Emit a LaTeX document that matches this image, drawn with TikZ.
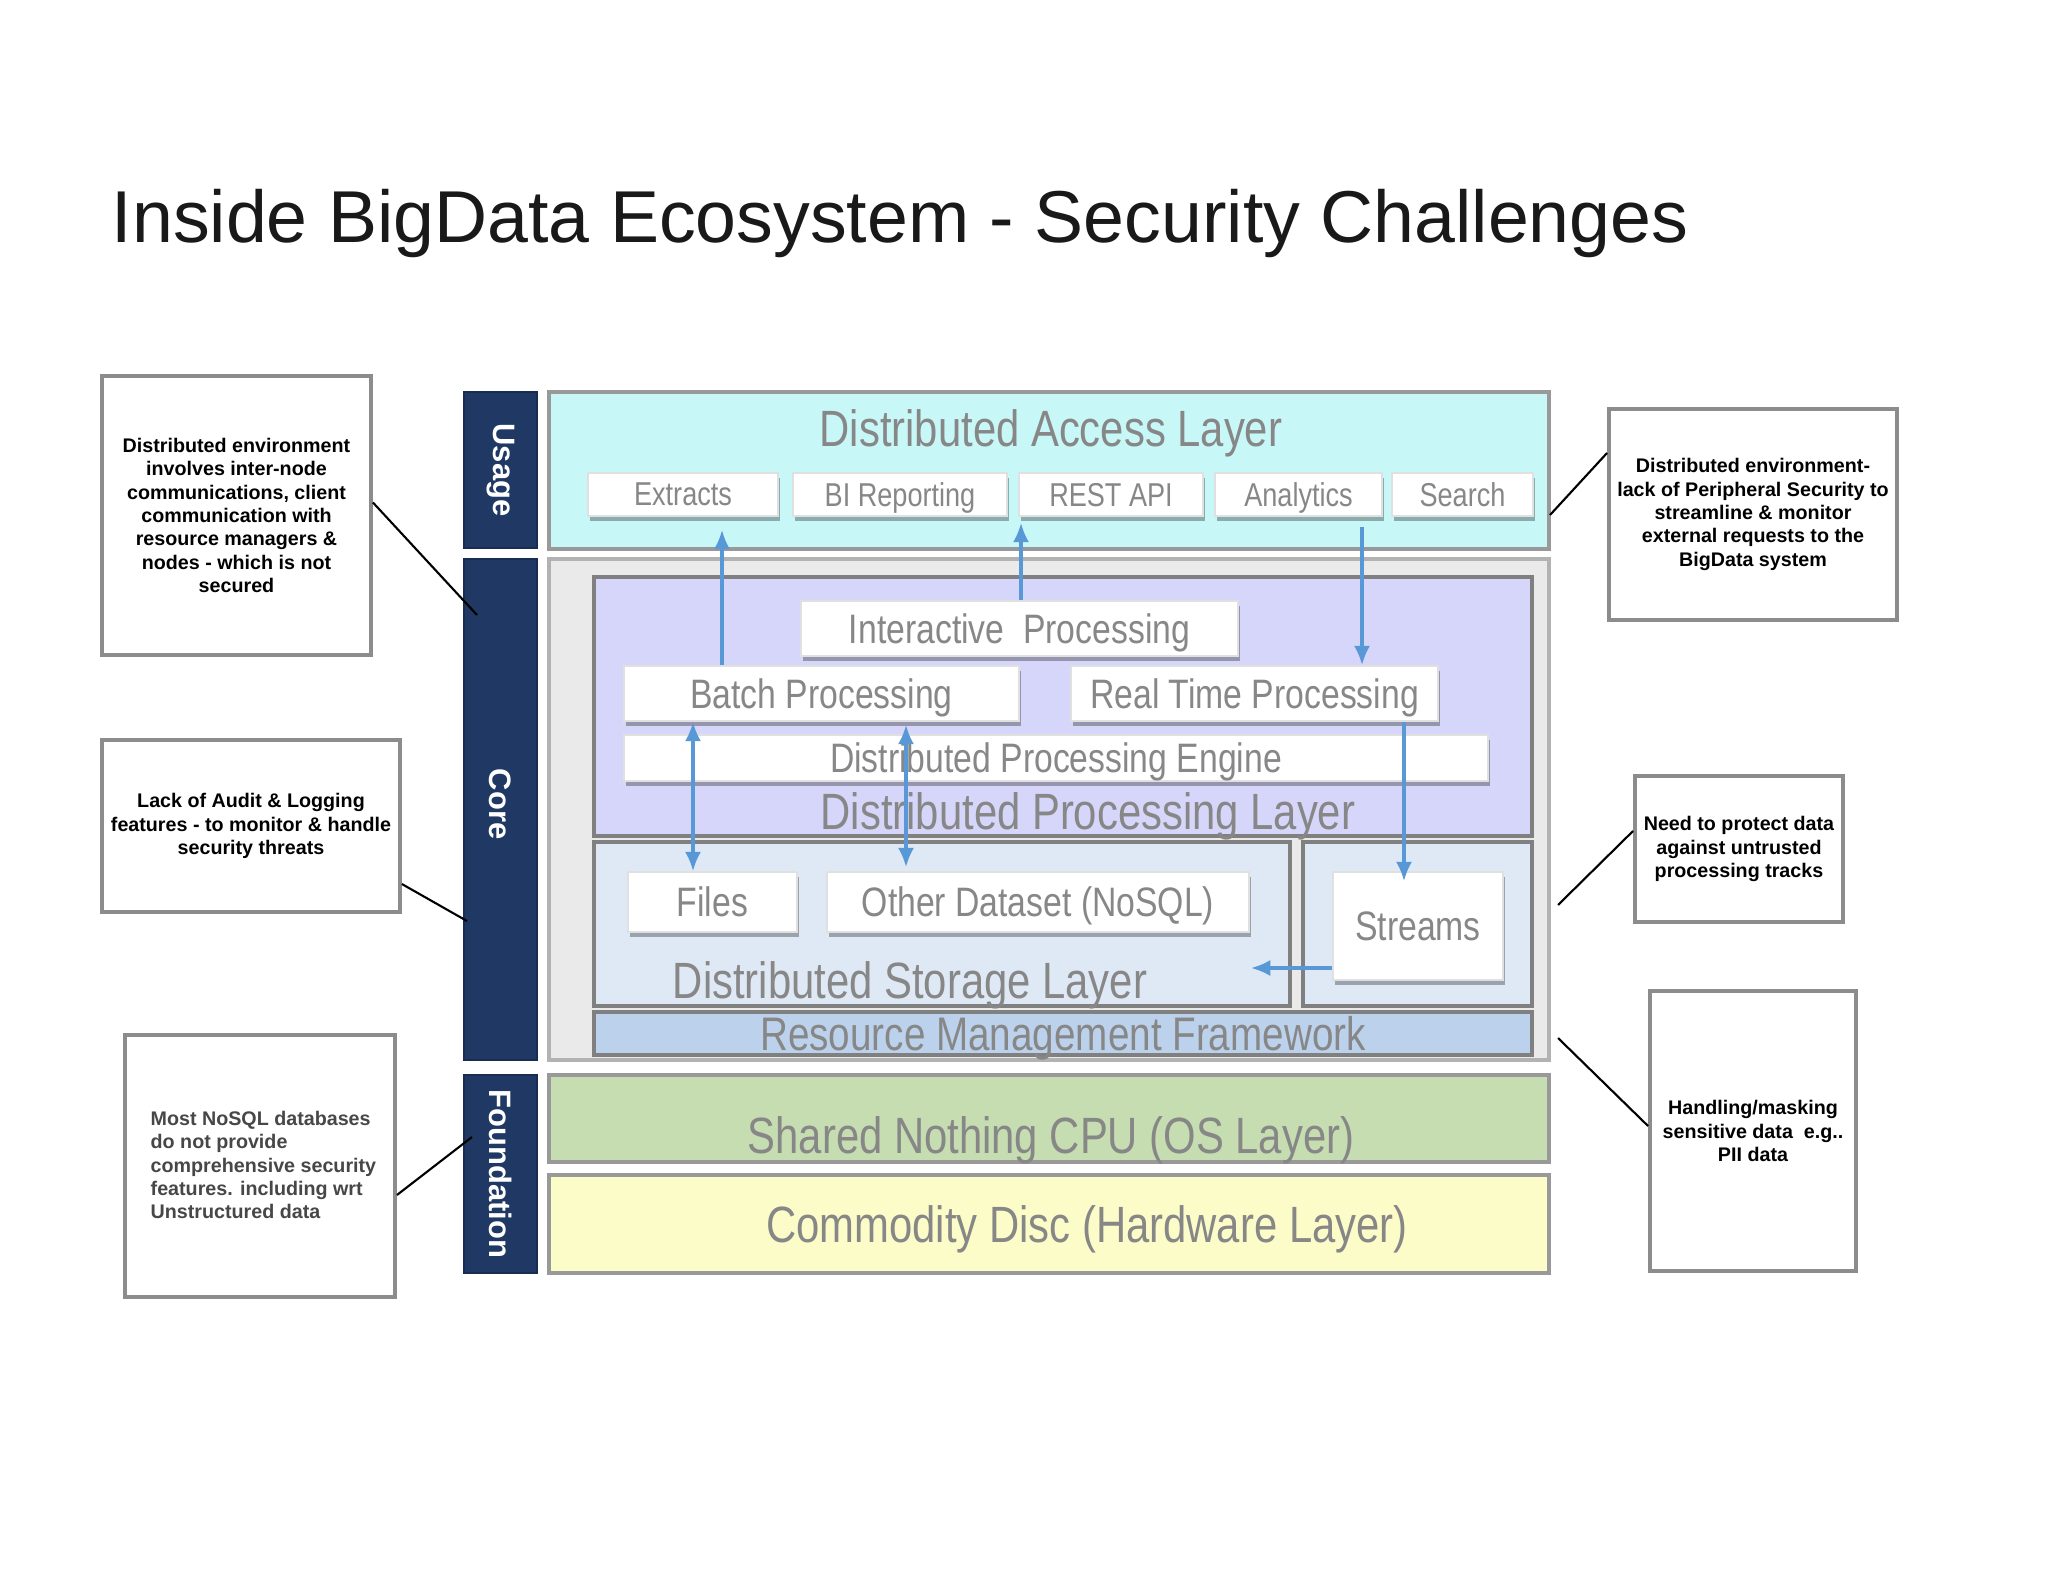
\documentclass[tikz,border=0pt]{standalone}
\usepackage{fontspec}
\setmainfont{Liberation Sans}
\newfontfamily\narrowf[FakeStretch=0.82]{Liberation Sans}
\usetikzlibrary{arrows.meta,shadows}
\definecolor{navy}{RGB}{31,56,100}
\definecolor{cyanl}{RGB}{200,247,247}
\definecolor{lav}{RGB}{214,214,250}
\definecolor{stbl}{RGB}{222,233,245}
\definecolor{resbl}{RGB}{188,210,236}
\definecolor{grn}{RGB}{197,221,176}
\definecolor{yel}{RGB}{252,252,200}
\definecolor{coreg}{RGB}{234,234,234}
\definecolor{txtg}{RGB}{135,135,135}
\definecolor{arrb}{RGB}{88,152,214}
\definecolor{cbord}{RGB}{140,140,140}
% box node from corner pixels: style, name, x1, y1, x2, y2, text
\newcommand\bxn[7]{\node[#1,minimum width={(#5-#3)*0.01cm},minimum height={(#6-#4)*0.01cm}] (#2) at ({(#3+#5)/2},{(#4+#6)/2}) {#7};}
\begin{document}
\begin{tikzpicture}[x=0.01cm,y=-0.01cm,
  bar/.style={fill=navy,draw=navy!80!black,line width=0.5pt,inner sep=0pt},
  panel/.style={draw=black!40,line width=1.3pt,inner sep=0pt},
  wbox/.style={fill=white,draw=black!12,line width=0.5pt,inner sep=0pt,text=txtg,text depth=0pt,
    drop shadow={shadow xshift=0.6pt,shadow yshift=-1.4pt,opacity=0.3,fill=black}},
  btnf/.style={font=\narrowf\fontsize{9.4}{11}\selectfont},
  boxf/.style={font=\narrowf\fontsize{11.7}{13}\selectfont},
  lbl/.style={text=txtg,inner sep=0pt,text depth=0pt,font=\narrowf\fontsize{14.5}{16}\selectfont},
  barlbl/.style={text=white,rotate=-90,inner sep=0pt,font=\bfseries\fontsize{8.8}{10}\selectfont},
  callout/.style={draw=cbord,line width=1.1pt,fill=white,inner sep=0pt,align=center,
    font=\bfseries\fontsize{5.6}{6.65}\selectfont},
  conn/.style={draw=black,line width=0.6pt},
  arr/.style={draw=arrb,line width=0.9pt},
  tipu/.style={-{Latex[length=5.5pt,width=4.6pt]}},
  tipb/.style={{Latex[length=5.5pt,width=4.6pt]}-{Latex[length=5.5pt,width=4.6pt]}}
]
\path[use as bounding box,fill=white] (0,0) rectangle (2048,1582);

% title
\node[anchor=base west,inner sep=0pt,text=black!90,font=\fontsize{20.9}{24}\selectfont] (title) at (111,243)
  {Inside BigData Ecosystem - Security Challenges};

% side bars
\bxn{bar}{usage}{464}{392}{537}{548}{}
\bxn{bar}{corebar}{464}{559}{537}{1060}{}
\bxn{bar}{found}{464}{1075}{537}{1273}{}
\node[barlbl] (usagel) at (usage.center) {Usage};
\node[barlbl] (corel) at (500,804) {Core};
\node[barlbl] (foundl) at (found.center) {Foundation};

% panels
\bxn{panel,fill=cyanl}{access}{549}{392}{1549}{549}{}
\bxn{panel,fill=coreg,draw=black!30}{corep}{549}{559}{1549}{1060}{}
\bxn{panel,fill=lav,draw=black!50}{proc}{594}{577}{1532}{836}{}
\bxn{panel,fill=stbl,draw=black!50}{stor}{594}{842}{1290}{1006}{}
\bxn{panel,fill=stbl,draw=black!50}{strm}{1303}{842}{1532}{1006}{}
\bxn{panel,fill=resbl,draw=black!50,text=txtg,text depth=0pt,font=\narrowf\fontsize{13.4}{15}\selectfont}{res}{594}{1012}{1532}{1055}{Resource Management Framework}
\bxn{panel,fill=grn,draw=black!40}{cpu}{549}{1075}{1549}{1162}{}
\bxn{panel,fill=yel,draw=black!40}{disc}{549}{1175}{1549}{1273}{}

% layer labels
\node[lbl] (accessl) at (1051,428) {Distributed Access Layer};
\node[lbl] (procl) at (1088,811) {Distributed Processing Layer};
\node[lbl] (storl) at (910,980) {Distributed Storage Layer};
\node[lbl] (cpul) at (1051,1135) {Shared Nothing CPU (OS Layer)};
\node[lbl] (discl) at (1087,1224) {Commodity Disc (Hardware Layer)};

% access buttons
\bxn{wbox,btnf}{extracts}{588}{473}{778}{516}{Extracts}
\bxn{wbox,btnf}{bi}{793}{473}{1007}{516}{BI Reporting}
\bxn{wbox,btnf}{rest}{1019}{473}{1203}{516}{REST API}
\bxn{wbox,btnf}{analytics}{1215}{473}{1382}{516}{Analytics}
\bxn{wbox,btnf}{search}{1392}{473}{1533}{516}{Search}

% processing boxes
\bxn{wbox,boxf}{inter}{801}{601}{1238}{656}{Interactive\ \ Processing}
\bxn{wbox,boxf}{batch}{624}{666}{1019}{721}{Batch Processing}
\bxn{wbox,boxf}{realtime}{1071}{666}{1438}{721}{Real Time Processing}
\bxn{wbox,boxf}{engine}{624}{735}{1488}{781}{Distributed Processing Engine}

% storage boxes
\bxn{wbox,boxf}{files}{628}{872}{797}{932}{Files}
\bxn{wbox,boxf}{other}{827}{872}{1249}{932}{Other Dataset (NoSQL)}
\bxn{wbox,boxf}{streams}{1333}{872}{1503}{980}{Streams}

% arrow positions
\coordinate (a1) at (722,0);
\coordinate (a2) at (1021,0);
\coordinate (a3) at (1362,0);
\coordinate (a4) at (693,0);
\coordinate (a5) at (906,0);
\coordinate (a6) at (1404,0);
\coordinate (a7) at (1251,968);

\draw[arr,tipu,shorten >=0.13cm] (batch.north -| a1) -- (extracts.south -| a1);
\draw[arr,tipu,shorten >=0.06cm] (inter.north -| a2) -- (rest.south -| a2);
\draw[arr,tipu,shorten <=0.1cm] (analytics.south -| a3) -- (realtime.north -| a3);
\draw[arr,tipb] (batch.south -| a4) -- (files.north -| a4);
\draw[arr,tipb,shorten <=0.03cm,shorten >=0.04cm] (batch.south -| a5) -- (other.north -| a5);
\draw[arr,tipu,shorten >=-0.1cm] (realtime.south -| a6) -- (streams.north -| a6);
\draw[arr,tipu] (streams.west |- a7) -- (a7);

% callouts
\bxn{callout}{c1}{102}{376}{371}{655}{Distributed environment\\involves inter-node\\communications, client\\communication with\\resource managers \&\\nodes - which is not\\secured}
\bxn{callout}{c2}{102}{740}{400}{912}{Lack of Audit \& Logging\\features - to monitor \& handle\\security threats}
\bxn{callout}{c3}{125}{1035}{395}{1297}{}
\node[anchor=west,inner sep=0pt,align=left,text=black!72,font=\bfseries\fontsize{5.6}{6.65}\selectfont] (c3t) at (150,1165)
  {Most NoSQL databases\\do not provide\\comprehensive security\\features. including wrt\\Unstructured data};
\bxn{callout}{r1}{1609}{409}{1897}{620}{Distributed environment-\\lack of Peripheral Security to\\streamline \& monitor\\external requests to the\\BigData system}
\bxn{callout}{r2}{1635}{776}{1843}{922}{Need to protect data\\against untrusted\\processing tracks}
\bxn{callout}{r3}{1650}{991}{1856}{1271}{Handling/masking\\sensitive data\ \ e.g..\\PII data}

\coordinate (p1) at (477,615);
\coordinate (p2) at (467,921);
\coordinate (p3) at (472,1137);
\coordinate (q1) at (1550,515);
\coordinate (q2) at (1558,905);
\coordinate (q3) at (1558,1038);
\draw[conn] ([yshift=0.13cm]c1.east) -- (p1);
\draw[conn] ([yshift=-0.58cm]c2.east) -- (p2);
\draw[conn] ([yshift=-0.29cm]c3.east) -- (p3);
\draw[conn] ([yshift=0.615cm]r1.west) -- (q1);
\draw[conn] ([yshift=0.18cm]r2.west) -- (q2);
\draw[conn] ([yshift=0.05cm]r3.west) -- (q3);
\end{tikzpicture}
\end{document}
